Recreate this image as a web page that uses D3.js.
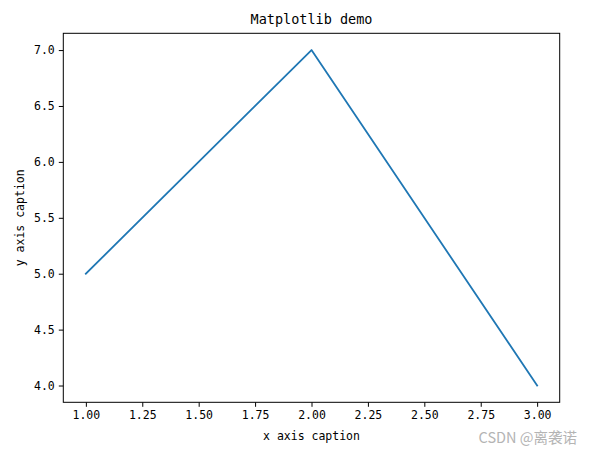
<!DOCTYPE html>
<html><head><meta charset="utf-8">
<script src="https://cdn.jsdelivr.net/npm/d3@7"></script>
<style>
body{margin:0;background:#fff;}
svg text{font-family:"DejaVu Sans Mono","Liberation Mono",monospace;}
</style></head>
<body><svg id="c" width="592" height="454"></svg>
<script>
const xValues = [1, 2, 3];
const yValues = [5, 7, 4];
const xTicks = [1.00, 1.25, 1.50, 1.75, 2.00, 2.25, 2.50, 2.75, 3.00];
const yTicks = [4.0, 4.5, 5.0, 5.5, 6.0, 6.5, 7.0];
const title = "Matplotlib demo";
const xLabel = "x axis caption";
const yLabel = "y axis caption";
const watermark = "CSDN @离袭诺";

const svg = d3.select("#c");
const L = 63.3, R = 559.7, T = 33.3, B = 402.3;
const x = d3.scaleLinear().domain([0.9, 3.1]).range([L, R]);
const y = d3.scaleLinear().domain([3.85, 7.15]).range([B, T]);
const fs = 11.5;

const xa = svg.append("g").attr("transform", `translate(0,${B})`)
  .call(d3.axisBottom(x).tickValues(xTicks).tickFormat(d3.format(".2f")).tickSizeOuter(0).tickSize(4.5).tickPadding(4));
const ya = svg.append("g").attr("transform", `translate(${L},0)`)
  .call(d3.axisLeft(y).tickValues(yTicks).tickFormat(d3.format(".1f")).tickSizeOuter(0).tickSize(4.5).tickPadding(4));
[xa, ya].forEach(a => {
  a.select(".domain").remove();
  a.selectAll("text").attr("font-size", fs).attr("fill", "#000").style("font-family", "DejaVu Sans Mono");
  a.selectAll("line").attr("stroke", "#000").attr("stroke-width", 1);
});

svg.append("path").datum(xValues.map((v, i) => [v, yValues[i]]))
  .attr("fill", "none").attr("stroke", "#1f77b4").attr("stroke-width", 1.8)
  .attr("stroke-linejoin", "round").attr("stroke-linecap", "square")
  .attr("d", d3.line().x(d => x(d[0])).y(d => y(d[1])));

svg.append("rect").attr("x", L).attr("y", T).attr("width", R - L).attr("height", B - T)
  .attr("fill", "none").attr("stroke", "#000").attr("stroke-width", 1);

svg.append("text").attr("x", (L + R) / 2).attr("y", 24).attr("text-anchor", "middle")
  .attr("font-size", 13.5).text(title);
svg.append("text").attr("x", (L + R) / 2).attr("y", 440).attr("text-anchor", "middle")
  .attr("font-size", fs).text(xLabel);
svg.append("text").attr("transform", `translate(24,${(T + B) / 2}) rotate(-90)`).attr("text-anchor", "middle")
  .attr("font-size", fs).text(yLabel);
svg.append("text").attr("x", 577).attr("y", 443).attr("text-anchor", "end")
  .attr("font-size", 14.5).attr("fill", "#b4b4b4")
  .style("font-family", "'Noto Sans CJK SC', sans-serif").text(watermark);
</script></body></html>
